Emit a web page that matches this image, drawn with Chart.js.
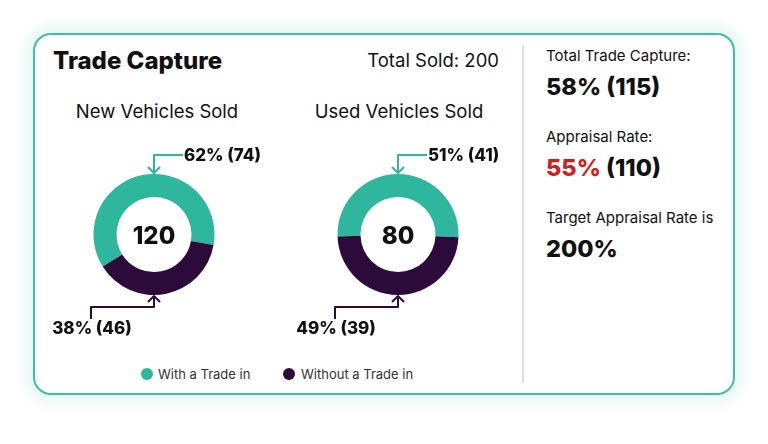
<!DOCTYPE html>
<html>
<head>
<meta charset="utf-8">
<script src="https://cdn.jsdelivr.net/npm/chart.js@4"></script>
<style>
  html, body { margin: 0; padding: 0; background: #fff; }
  body { width: 768px; height: 444px; position: relative; overflow: hidden; font-family: "Inter", sans-serif; color: #111; }
  .card {
    position: absolute; left: 33px; top: 33px; width: 698px; height: 358px;
    border: 2px solid #3dbfa1; border-radius: 18px; background: #fff;
    box-shadow: 0 0 12px 9px rgba(61, 191, 161, 0.11);
  }
  .t { position: absolute; white-space: nowrap; line-height: 30px; height: 30px; }
  .divider { position: absolute; left: 522px; top: 45px; width: 2px; height: 338px; background: #dddfe9; }
  .box { position: absolute; }
  .dot { position: absolute; width: 12px; height: 12px; border-radius: 50%; }
</style>
</head>
<body>
<div class="card"></div>
<div class="divider"></div>

<div class="t" style="left:53px; top:46px; font-size:24px; font-weight:800;">Trade Capture</div>
<div class="t" id="totalSold" style="right:269px; top:45px; font-size:18.5px;"></div>
<div class="t" id="title0" style="left:37px; width:240px; text-align:center; top:96px; font-size:18.5px;"></div>
<div class="t" id="title1" style="left:279px; width:240px; text-align:center; top:96px; font-size:18.5px;"></div>

<div class="box" style="left:34px; top:140px; width:240px; height:205px;"><canvas id="chart-new"></canvas></div>
<div class="box" style="left:278px; top:140px; width:240px; height:205px;"><canvas id="chart-used"></canvas></div>

<div class="dot" style="left:141px; top:368px; background:#2eb79d;"></div>
<div class="t" id="leg0" style="left:158px; top:359px; font-size:13px; color:#333;"></div>
<div class="dot" style="left:283px; top:368px; background:#2c0b3b;"></div>
<div class="t" id="leg1" style="left:301px; top:359px; font-size:13px; color:#333;"></div>

<div class="t" style="left:546px; top:41px; font-size:15px;">Total Trade Capture:</div>
<div class="t" id="capture" style="left:546px; top:72px; font-size:23.5px; font-weight:800;"></div>
<div class="t" style="left:546px; top:122px; font-size:15px;">Appraisal Rate:</div>
<div class="t" id="appraisal" style="left:546px; top:153px; font-size:23.5px; font-weight:800;"></div>
<div class="t" style="left:546px; top:203px; font-size:15px;">Target Appraisal Rate is</div>
<div class="t" id="target" style="left:546px; top:234px; font-size:23.5px; font-weight:800;"></div>

<script>
// data
var categories = ["With a Trade in", "Without a Trade in"];
var chartTitles = ["New Vehicles Sold", "Used Vehicles Sold"];
var newVehicles = [74, 46];
var usedVehicles = [41, 39];
var totalSold = 200;
var tradeCapture = [58, 115];
var appraisalRate = [55, 110];
var targetAppraisal = 200;

var colors = ["#2eb79d", "#2c0b3b"];

document.getElementById("totalSold").textContent = "Total Sold: " + totalSold;
document.getElementById("title0").textContent = chartTitles[0];
document.getElementById("title1").textContent = chartTitles[1];
document.getElementById("leg0").textContent = categories[0];
document.getElementById("leg1").textContent = categories[1];
document.getElementById("capture").textContent = tradeCapture[0] + "% (" + tradeCapture[1] + ")";
document.getElementById("appraisal").innerHTML = '<span style="color:#d0201b">' + appraisalRate[0] + '%</span> (' + appraisalRate[1] + ')';
document.getElementById("target").textContent = targetAppraisal + "%";

// center number + callouts
var calloutPlugin = {
    id: "callouts",
    afterDraw: function (chart) {
        var ctx = chart.ctx;
        var arc = chart.getDatasetMeta(0).data[0];
        var cx = arc.x, cy = arc.y, r = arc.outerRadius;
        var values = chart.data.datasets[0].data;
        var total = values[0] + values[1];
        var labels = values.map(function (v) { return Math.round(v / total * 100) + "% (" + v + ")"; });

        ctx.save();
        ctx.fillStyle = "#111";
        ctx.textAlign = "center";
        ctx.textBaseline = "middle";
        ctx.font = "800 24px Inter";
        ctx.fillText(total, cx, cy + 2);

        ctx.lineWidth = 2;
        ctx.lineJoin = "round";
        // top callout
        ctx.strokeStyle = colors[0];
        ctx.beginPath();
        ctx.moveTo(cx, cy - r - 1);
        ctx.lineTo(cx, cy - r - 19);
        ctx.lineTo(cx + 29, cy - r - 19);
        ctx.stroke();
        ctx.beginPath();
        ctx.moveTo(cx - 6, cy - r - 7);
        ctx.lineTo(cx, cy - r - 1);
        ctx.lineTo(cx + 6, cy - r - 7);
        ctx.stroke();
        ctx.font = "800 17px Inter";
        ctx.textAlign = "left";
        ctx.fillText(labels[0], cx + 30, cy - r - 18);

        // bottom callout
        ctx.strokeStyle = colors[1];
        ctx.beginPath();
        ctx.moveTo(cx, cy + r + 1);
        ctx.lineTo(cx, cy + r + 12);
        ctx.lineTo(cx - 63, cy + r + 12);
        ctx.lineTo(cx - 63, cy + r + 24);
        ctx.stroke();
        ctx.beginPath();
        ctx.moveTo(cx - 6, cy + r + 7);
        ctx.lineTo(cx, cy + r + 1);
        ctx.lineTo(cx + 6, cy + r + 7);
        ctx.stroke();
        ctx.textAlign = "center";
        ctx.fillText(labels[1], cx - 62, cy + r + 34);
        ctx.restore();
    }
};

function makeDonut(id, values, rotation) {
    return new Chart(id, {
        type: "doughnut",
        data: {
            labels: categories,
            datasets: [{
                data: values,
                backgroundColor: colors,
                borderWidth: 0
            }]
        },
        options: {
            responsive: true,
            maintainAspectRatio: false,
            animation: false,
            cutout: "62%",
            rotation: rotation,
            layout: { padding: { top: 34, bottom: 50 } },
            plugins: {
                legend: { display: false },
                tooltip: { enabled: false }
            }
        },
        plugins: [calloutPlugin]
    });
}

makeDonut("chart-new", newVehicles, -122);
makeDonut("chart-used", usedVehicles, -92);
</script>
</body>
</html>
